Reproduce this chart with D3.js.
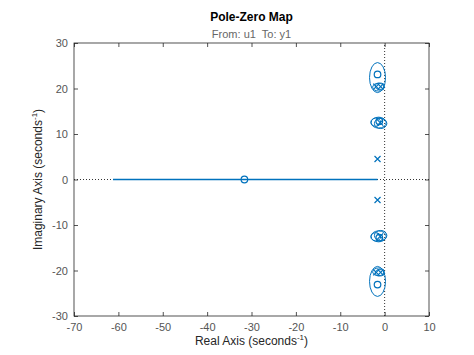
<!DOCTYPE html>
<html><head><meta charset="utf-8">
<script src="https://cdn.jsdelivr.net/npm/d3@7"></script>
<style>body{margin:0;background:#fff}svg{display:block}</style>
</head><body><svg id="c" width="474" height="355"></svg>
<script>
const xTicks = [-70,-60,-50,-40,-30,-20,-10,0,10];
const yTicks = [-30,-20,-10,0,10,20,30];
// zeros (o) and poles (x), real / imaginary parts
const zerosRe = [-31.6, -1.6, -1.6, -1.2, -1.2];
const zerosIm = [0, 23.1, -23.1, 12.8, -12.8];
const polesRe = [-1.9, -0.9, -1.9, -0.9, -1.0, -1.0, -1.6, -1.6];
const polesIm = [20.4, 20.4, -20.4, -20.4, 12.5, -12.5, 4.5, -4.5];
// dense pole/zero clusters seen as rings: centre re, centre im, spread re, spread im
const ringRe = [-1.6, -1.4, -1.1, -1.35, -0.9, -2.0, -1.6, -1.4, -1.1, -1.35, -0.9, -2.0];
const ringIm = [22.4, 20.3, 20.5, 12.5, 12.3, 12.6, -22.4, -20.3, -20.5, -12.5, -12.3, -12.6];
const ringDx = [1.8, 1.3, 1.0, 1.7, 1.4, 1.1, 1.8, 1.3, 1.0, 1.7, 1.4, 1.1];
const ringDy = [3.3, 0.85, 0.7, 1.2, 1.1, 0.9, 3.3, 0.85, 0.7, 1.2, 1.1, 0.9];
// densely packed real-axis poles/zeros, drawn as a segment
const segRe = [-61.2, -1.6];
const segIm = [0, 0];

const svg = d3.select("#c");
const L=74, R=429, T=43, B=316;
const x = d3.scaleLinear().domain([-70,10]).range([L,R]);
const y = d3.scaleLinear().domain([-30,30]).range([B,T]);
const axisCol = "#262626", tickCol="#555", blue="#0072BD";
const font = "'Liberation Sans', Arial, sans-serif";

// title
svg.append("text").attr("x",(L+R)/2).attr("y",21).attr("text-anchor","middle")
  .attr("font-family",font).attr("font-size",12).attr("font-weight","bold").attr("fill","#000").text("Pole-Zero Map");
svg.append("text").attr("x",(L+R)/2).attr("y",38).attr("text-anchor","middle")
  .attr("font-family",font).attr("font-size",11).attr("fill","#666").attr("xml:space","preserve").style("white-space","pre").text("From: u1  To: y1");

// dotted zero lines
svg.append("line").attr("x1",x(-70)).attr("x2",x(10)).attr("y1",y(0)).attr("y2",y(0))
  .attr("stroke","#333").attr("stroke-width",1).attr("stroke-dasharray","1,2");
svg.append("line").attr("x1",x(0)).attr("x2",x(0)).attr("y1",y(-30)).attr("y2",y(30))
  .attr("stroke","#333").attr("stroke-width",1).attr("stroke-dasharray","1,2");

// axes
const fmt = d => String(d);
const gx = svg.append("g").attr("transform",`translate(0,${B})`)
  .call(d3.axisBottom(x).tickValues(xTicks).tickSize(-4).tickPadding(7).tickFormat(fmt));
const gxt = svg.append("g").attr("transform",`translate(0,${T})`)
  .call(d3.axisTop(x).tickValues(xTicks).tickSize(-4).tickFormat(""));
const gy = svg.append("g").attr("transform",`translate(${L},0)`)
  .call(d3.axisLeft(y).tickValues(yTicks).tickSize(-4).tickPadding(6).tickFormat(fmt));
const gyr = svg.append("g").attr("transform",`translate(${R},0)`)
  .call(d3.axisRight(y).tickValues(yTicks).tickSize(-4).tickFormat(""));
[gx,gxt,gy,gyr].forEach(g=>{
  g.select(".domain").remove();
  g.selectAll(".tick line").attr("stroke",axisCol).attr("stroke-width",0.8);
  g.selectAll("text").attr("font-family",font).attr("font-size",11).attr("fill",tickCol);
});
svg.append("rect").attr("x",L).attr("y",T).attr("width",R-L).attr("height",B-T)
  .attr("fill","none").attr("stroke",axisCol).attr("stroke-width",0.8);

// axis labels
const xl = svg.append("text").attr("x",(L+R)/2).attr("y",345).attr("text-anchor","middle")
  .attr("font-family",font).attr("font-size",12).attr("fill",axisCol);
xl.append("tspan").text("Real Axis (seconds");
xl.append("tspan").attr("dy",-5).attr("font-size",8).text("-1");
xl.append("tspan").attr("dy",5).text(")");
const yl = svg.append("text").attr("transform",`translate(42,${(T+B)/2}) rotate(-90)`).attr("text-anchor","middle")
  .attr("font-family",font).attr("font-size",12).attr("fill",axisCol);
yl.append("tspan").text("Imaginary Axis (seconds");
yl.append("tspan").attr("dy",-5).attr("font-size",8).text("-1");
yl.append("tspan").attr("dy",5).text(")");

// real-axis segment
svg.append("line").attr("x1",x(segRe[0])).attr("x2",x(segRe[1])).attr("y1",y(segIm[0])).attr("y2",y(segIm[1]))
  .attr("stroke",blue).attr("stroke-width",1.4);

// rings
svg.append("g").selectAll("ellipse").data(ringRe.map((r,i)=>({r,i:ringIm[i],dx:ringDx[i],dy:ringDy[i]})))
  .join("ellipse").attr("cx",d=>x(d.r)).attr("cy",d=>y(d.i))
  .attr("rx",d=>x(d.r+d.dx)-x(d.r)).attr("ry",d=>y(d.i-d.dy)-y(d.i))
  .attr("fill","none").attr("stroke",blue).attr("stroke-width",1);

// zeros
svg.append("g").selectAll("circle").data(zerosRe.map((r,i)=>[r,zerosIm[i]]))
  .join("circle").attr("cx",d=>x(d[0])).attr("cy",d=>y(d[1])).attr("r",3.3)
  .attr("fill","none").attr("stroke",blue).attr("stroke-width",1.2);
// poles
svg.append("g").selectAll("path").data(polesRe.map((r,i)=>[r,polesIm[i]]))
  .join("path").attr("d",d=>{const cx=x(d[0]),cy=y(d[1]),s=3;return `M${cx-s},${cy-s}L${cx+s},${cy+s}M${cx-s},${cy+s}L${cx+s},${cy-s}`;})
  .attr("stroke",blue).attr("stroke-width",1.2).attr("fill","none");
</script></body></html>
